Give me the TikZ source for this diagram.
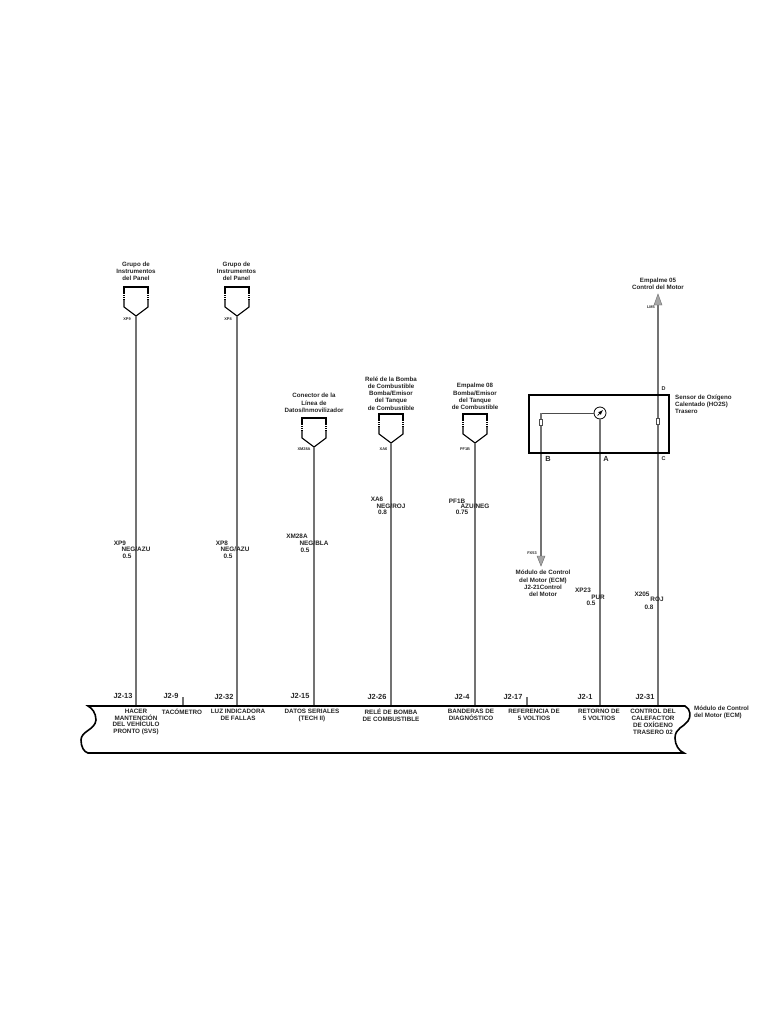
\documentclass[tikz,border=0pt]{standalone}
\usepackage{fontspec}
\setmainfont{Liberation Sans}
\begin{document}
\begin{tikzpicture}[x=1pt,y=-1pt,
  wire/.style={draw=black!55,line width=1.3pt},
  thinwire/.style={draw=black!70,line width=0.8pt},
  thickline/.style={draw=black,line width=1.6pt},
  boxline/.style={draw=black,line width=2pt},
  lbl/.style={font=\fontsize{6.3}{7}\selectfont\bfseries,text=black!85,inner sep=0pt,align=center},
  toplbl/.style={lbl,font=\fontsize{6.2}{7.2}\selectfont\bfseries},
  buslbl/.style={lbl,font=\fontsize{6.3}{6.9}\selectfont\bfseries},
  pinlbl/.style={lbl,font=\fontsize{7.4}{8}\selectfont\bfseries},
  wirelbl/.style={lbl,font=\fontsize{6.4}{7}\selectfont\bfseries},
  tiny/.style={lbl,font=\fontsize{3.9}{4.5}\selectfont\bfseries},
  tip/.style={draw=black!60,fill=black!35,line width=0.4pt},
  fuse/.style={draw=black!70,fill=white,line width=0.5pt,minimum width=2.6pt,minimum height=6pt,inner sep=0pt},
  plug/.pic={
    \draw[draw=black,line width=1.1pt,line join=miter] (-12,-23)--(-12,-29)--(12,-29)--(12,-23);
    \draw[draw=black,line width=1.1pt,dash pattern=on 1pt off 1pt] (-12,-23)--(-12,-16) (12,-23)--(12,-16);
    \draw[draw=black,line width=1.1pt] (-12,-16)--(-12,-9)--(0,0)--(12,-9)--(12,-16);
  }]
\useasboundingbox[fill=white] (0,0) rectangle (768,1024);

% bus
\draw[thickline] (88,706) -- (685,706)
  .. controls (691,709) and (691,717) .. (688,721)
  .. controls (684,727) and (675,728) .. (675,738)
  .. controls (675,745) and (679,751) .. (684,753)
  -- (88,753)
  .. controls (84,752) and (81,747) .. (81,740)
  .. controls (81,731) and (95,730) .. (96,720)
  .. controls (96,713) and (92,708) .. (88,706) -- cycle;

% plugs
\pic at (136,316) {plug};
\pic at (237,316) {plug};
\pic at (314,447) {plug};
\pic at (391,443) {plug};
\pic at (475,443) {plug};
\coordinate (c1) at (136,316); \coordinate (p1) at (136,705);
\coordinate (c2) at (237,316); \coordinate (p2) at (237,705);
\coordinate (c3) at (314,447); \coordinate (p3) at (314,705);
\coordinate (c4) at (391,443); \coordinate (p4) at (391,705);
\coordinate (c5) at (475,443); \coordinate (p5) at (475,705);
\coordinate (p6) at (183,705); \coordinate (s6) at (183,697);
\coordinate (p7) at (527,705); \coordinate (s7) at (527,697);
\coordinate (p8) at (600,705);
\coordinate (p9) at (658,705);
\draw[wire] (c1)--(p1); \draw[wire] (c2)--(p2); \draw[wire] (c3)--(p3);
\draw[wire] (c4)--(p4); \draw[wire] (c5)--(p5);
\draw[wire] (p6)--(s6); \draw[wire] (p7)--(s7);

% sensor box and its wires
\node[circle,draw=black,fill=white,line width=0.8pt,minimum size=12pt,inner sep=0pt] (meter) at (600,413) {};
\coordinate (bend) at (541,413);
\coordinate (tipB) at (541,556);
\coordinate (tipD) at (658,305);
\draw[wire] (p8)--(meter.south);
\draw[thinwire] (meter.west)--(bend);
\draw[wire] (bend)--(tipB);
\draw[wire] (p9)--(tipD);
\draw[draw=black,line width=0.7pt,-latex] (597.5,415.5)--(603,410);
\path[tip] (537,556)--(545,556)--(541,566)--cycle;
\path[tip] (654,305)--(662,305)--(658,294)--cycle;
\node[fuse] (f1) at (541,422.5) {};
\node[fuse] (f2) at (658,421.5) {};
\draw[boxline] (529,395) rectangle (669,453);

% top labels
\node[toplbl] (t1) at (136,271.5) {Grupo de\\Instrumentos\\del Panel};
\node[toplbl] (t2) at (236.5,271.5) {Grupo de\\Instrumentos\\del Panel};
\node[toplbl] (t3) at (314,403) {Conector de la\\Línea de\\Datos/Inmovilizador};
\node[toplbl] (t4) at (391,393.5) {Relé de la Bomba\\de Combustible\\Bomba/Emisor\\del Tanque\\de Combustible};
\node[toplbl] (t5) at (475,396.5) {Empalme 08\\Bomba/Emisor\\del Tanque\\de Combustible};
\node[toplbl] (t6) at (658,283.5) {Empalme 05\\Control del Motor};
\node[toplbl] (t7) at (543,583.5) {Módulo de Control\\del Motor (ECM)\\J2-21Control\\del Motor};
\node[toplbl,align=left,anchor=west] (t8) at (675,404) {Sensor de Oxígeno\\Calentado (HO2S)\\Trasero};
\node[toplbl,align=left,anchor=west] (t9) at (694,712.5) {Módulo de Control\\del Motor (ECM)};

% tiny connector codes
\node[tiny] (x1) at (127,319.5) {XP9};
\node[tiny] (x2) at (228,319.5) {XP8};
\node[tiny] (x3) at (304,449) {XM28A};
\node[tiny] (x4) at (383.5,449) {XA6};
\node[tiny] (x5) at (465,449) {PF1B};
\node[tiny] (x6) at (651,307) {LM5};
\node[tiny] (x7) at (532,553) {FX53};

% wire labels
\node[wirelbl] (a1) at (120,543) {XP9};
\node[wirelbl] (a2) at (136,549.5) {NEG/AZU};
\node[wirelbl] (a3) at (127,556) {0.5};
\node[wirelbl] (b1) at (222,543) {XP8};
\node[wirelbl] (b2) at (235,549.5) {NEG/AZU};
\node[wirelbl] (b3) at (228,556) {0.5};
\node[wirelbl] (d1) at (297,536.5) {XM28A};
\node[wirelbl] (d2) at (314,543) {NEG/BLA};
\node[wirelbl] (d3) at (305,550) {0.5};
\node[wirelbl] (e1) at (377,499.5) {XA6};
\node[wirelbl] (e2) at (391,506) {NEG/ROJ};
\node[wirelbl] (e3) at (382.5,512.5) {0.8};
\node[wirelbl] (g1) at (457,501) {PF1B};
\node[wirelbl] (g2) at (475,506) {AZU/NEG};
\node[wirelbl] (g3) at (462,512) {0.75};
\node[wirelbl] (h1) at (583,590) {XP23};
\node[wirelbl] (h2) at (598,597) {PUR};
\node[wirelbl] (h3) at (591,603) {0.5};
\node[wirelbl] (k1) at (642,594) {X205};
\node[wirelbl] (k2) at (657,599.5) {ROJ};
\node[wirelbl] (k3) at (649,607) {0.8};

% box pin letters
\node[tiny,font=\fontsize{5.5}{6}\selectfont\bfseries] (pD) at (663.5,389) {D};
\node[tiny,font=\fontsize{5.5}{6}\selectfont\bfseries] (pC) at (663.5,459) {C};
\node[pinlbl] (pB) at (548,458.5) {B};
\node[pinlbl] (pA) at (606,458.5) {A};

% pin labels
\node[pinlbl] (j1) at (123,696) {J2-13};
\node[pinlbl] (j2) at (171,696) {J2-9};
\node[pinlbl] (j3) at (224,696.5) {J2-32};
\node[pinlbl] (j4) at (300,696) {J2-15};
\node[pinlbl] (j5) at (377,696.5) {J2-26};
\node[pinlbl] (j6) at (462,696.5) {J2-4};
\node[pinlbl] (j7) at (513,696.5) {J2-17};
\node[pinlbl] (j8) at (585,696.5) {J2-1};
\node[pinlbl] (j9) at (645,697) {J2-31};

% bus labels
\node[buslbl,anchor=north] (u1) at (136,708.5) {HACER\\MANTENCIÓN\\DEL VEHÍCULO\\PRONTO (SVS)};
\node[buslbl,anchor=north] (u2) at (182,708.5) {TACÓMETRO};
\node[buslbl,anchor=north] (u3) at (238,708.5) {LUZ INDICADORA\\DE FALLAS};
\node[buslbl,anchor=north] (u4) at (312,708.5) {DATOS SERIALES\\(TECH II)};
\node[buslbl,anchor=north] (u5) at (391,708.5) {RELÉ DE BOMBA\\DE COMBUSTIBLE};
\node[buslbl,anchor=north] (u6) at (471,708.5) {BANDERAS DE\\DIAGNÓSTICO};
\node[buslbl,anchor=north] (u7) at (534,708.5) {REFERENCIA DE\\5 VOLTIOS};
\node[buslbl,anchor=north] (u8) at (599,708.5) {RETORNO DE\\5 VOLTIOS};
\node[buslbl,anchor=north] (u9) at (653,709) {CONTROL DEL\\CALEFACTOR\\DE OXÍGENO\\TRASERO 02};
\end{tikzpicture}
\end{document}
